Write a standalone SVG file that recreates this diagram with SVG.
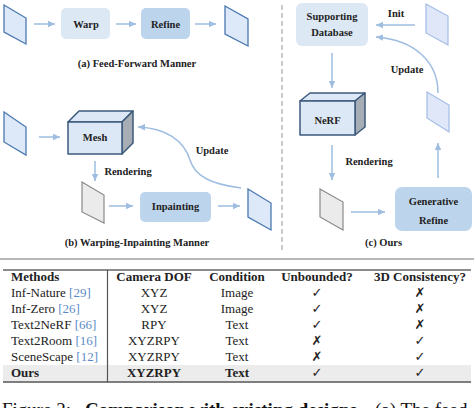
<svg xmlns="http://www.w3.org/2000/svg" width="474" height="408" viewBox="0 0 474 408">
<defs>
<marker id="ah" markerUnits="userSpaceOnUse" markerWidth="8" markerHeight="8" refX="7" refY="4" orient="auto">
<path d="M0,0.8 L7,4 L0,7.2 Z" fill="#9ebde0"/>
</marker>
</defs>
<style>
.lbl{font-family:"Liberation Serif",serif;font-weight:bold;font-size:10.5px;fill:#222;text-anchor:middle}
.arr{stroke:#9ebde0;stroke-width:1.5;fill:none;marker-end:url(#ah)}
.pd{fill:#dde9f8;stroke:#4a78b0;stroke-width:1.3}
.pl{fill:#dfe7f9;stroke:#a4bde6;stroke-width:1.2}
.pg{fill:#ebebeb;stroke:#8a8a8a;stroke-width:1.2}
.b1{fill:#dde8f5}
.b2{fill:#bdd5ec}
.cf{fill:#dce8f5;stroke:#3c5a7c;stroke-width:1.5;stroke-linejoin:round}
.cs{fill:#a6adb5;stroke:#3c5a7c;stroke-width:1.5;stroke-linejoin:round}
.tb{font-family:"Liberation Serif",serif;font-size:13px;fill:#222}
.th{font-weight:bold}
.c{text-anchor:middle}
.ref{fill:#5b8bc8}
.sym{font-family:"DejaVu Sans",sans-serif;font-size:13px;fill:#222;text-anchor:middle}
.cap{font-family:"Liberation Serif",serif;font-size:19px;fill:#111}
</style>

<!-- (a) Feed-Forward -->
<g id="a-in"><polygon class="pd" points="4,5 26,18 26,44 4,32"/></g>
<g id="a-warp"><rect class="b1" x="61" y="8" width="49" height="31" rx="5"/><text class="lbl" x="86" y="28">Warp</text></g>
<g id="a-refine"><rect class="b2" x="141" y="8" width="49" height="31" rx="5"/><text class="lbl" x="165.5" y="28">Refine</text></g>
<g id="a-out"><polygon class="pd" points="225,6 248,19 248,46 225,34"/></g>
<text class="lbl" x="137" y="67">(a) Feed-Forward Manner</text>

<!-- (b) Warping-Inpainting -->
<g id="b-in"><polygon class="pd" points="4,112 26,127 26,155 4,142"/></g>
<g id="b-mesh">
<polygon class="cf" points="68,122 79,111 133,111 122,122"/>
<polygon class="cs" points="122,122 133,111 133,143 122,154"/>
<rect class="cf" x="68" y="122" width="54" height="32"/>
<text class="lbl" x="95" y="141">Mesh</text>
</g>
<g id="b-render"><polygon class="pg" points="82,182 104,195 104,223 82,212"/></g>
<g id="b-inpaint"><rect class="b2" x="140" y="192" width="71" height="30" rx="5"/><text class="lbl" x="175.5" y="210">Inpainting</text></g>
<g id="b-out"><polygon class="pd" points="248,189 271,203 271,230 248,217"/></g>
<text class="lbl" x="137" y="246">(b) Warping-Inpainting Manner</text>

<!-- (c) Ours -->
<g id="c-db"><rect class="b1" x="296" y="3" width="72" height="43" rx="6"/><text class="lbl" x="332" y="20">Supporting</text><text class="lbl" x="332" y="36">Database</text></g>
<g id="c-init"><polygon class="pl" points="426,4 448,16 448,45 426,33"/></g>
<g id="c-nerf">
<polygon class="cf" points="300,101 310,93 365,93 355,101"/>
<polygon class="cs" points="355,101 365,93 365,127 355,135"/>
<rect class="cf" x="300" y="101" width="55" height="34"/>
<text class="lbl" x="327.5" y="124">NeRF</text>
</g>
<g id="c-render"><polygon class="pg" points="320,189 343,202 343,230 320,217"/></g>
<g id="c-gen"><rect class="b2" x="395" y="187" width="77" height="44" rx="7"/><text class="lbl" x="433.5" y="205">Generative</text><text class="lbl" x="433.5" y="224">Refine</text></g>
<g id="c-upd"><polygon class="pl" points="427,92 449,105 449,132 427,118"/></g>
<text class="lbl" x="383.5" y="246">(c) Ours</text>

<!-- connectors -->
<g id="connectors">
<line class="arr" x1="34" y1="24" x2="55" y2="24"/>
<line class="arr" x1="116" y1="24" x2="136" y2="24"/>
<line class="arr" x1="195" y1="24" x2="216" y2="24"/>
<line class="arr" x1="39" y1="137" x2="60" y2="137"/>
<line class="arr" x1="95" y1="161" x2="95" y2="181"/>
<line class="arr" x1="109" y1="206" x2="133" y2="206"/>
<line class="arr" x1="218" y1="206" x2="240" y2="206"/>
<path class="arr" d="M241,188 C210,184 195,176 190,160 C184,140 165,128 138,127"/>
<line class="arr" x1="415" y1="25" x2="376" y2="25"/>
<path class="arr" d="M438,93 C438,62 415,40 376,37"/>
<line class="arr" x1="332" y1="53" x2="332" y2="88"/>
<line class="arr" x1="332" y1="145" x2="332" y2="180"/>
<line class="arr" x1="351" y1="212" x2="385" y2="212"/>
<line class="arr" x1="438" y1="178" x2="438" y2="143"/>
<text class="lbl" x="128" y="175">Rendering</text>
<text class="lbl" x="212" y="154">Update</text>
<text class="lbl" x="396" y="17">Init</text>
<text class="lbl" x="407" y="73">Update</text>
<text class="lbl" x="369" y="165">Rendering</text>
</g>

<!-- separators -->
<line x1="282" y1="5" x2="282" y2="250" stroke="#a8a8a8" stroke-width="1.2" stroke-dasharray="5,3"/>
<line x1="0" y1="259" x2="474" y2="259" stroke="#b8b8b8" stroke-width="2"/>

<!-- table -->
<g id="table">
<rect x="3" y="365" width="468" height="16.5" fill="#ececec"/>
<line x1="3" y1="270" x2="471" y2="270" stroke="#666" stroke-width="1.5"/>
<line x1="3" y1="382" x2="471" y2="382" stroke="#555" stroke-width="1.6"/>
<line x1="107.5" y1="270" x2="107.5" y2="382" stroke="#555" stroke-width="1.2"/>
<g class="tb th">
<text x="11" y="281">Methods</text>
<text class="c" x="154" y="281">Camera DOF</text>
<text class="c" x="237" y="281">Condition</text>
<text class="c" x="317" y="281">Unbounded?</text>
<text class="c" x="420" y="281">3D Consistency?</text>
</g>
<g class="tb">
<text x="11" y="297">Inf-Nature <tspan class="ref">[29]</tspan></text>
<text x="11" y="313">Inf-Zero <tspan class="ref">[26]</tspan></text>
<text x="11" y="329">Text2NeRF <tspan class="ref">[66]</tspan></text>
<text x="11" y="345">Text2Room <tspan class="ref">[16]</tspan></text>
<text x="11" y="361">SceneScape <tspan class="ref">[12]</tspan></text>
<text class="c" x="154" y="297">XYZ</text>
<text class="c" x="154" y="313">XYZ</text>
<text class="c" x="154" y="329">RPY</text>
<text class="c" x="154" y="345">XYZRPY</text>
<text class="c" x="154" y="361">XYZRPY</text>
<text class="c" x="237" y="297">Image</text>
<text class="c" x="237" y="313">Image</text>
<text class="c" x="237" y="329">Text</text>
<text class="c" x="237" y="345">Text</text>
<text class="c" x="237" y="361">Text</text>
</g>
<g class="tb th">
<text x="11" y="377">Ours</text>
<text class="c" x="154" y="377">XYZRPY</text>
<text class="c" x="237" y="377">Text</text>
</g>
<g class="sym">
<text x="317" y="297">✓</text><text x="420" y="297">✗</text>
<text x="317" y="313">✓</text><text x="420" y="313">✗</text>
<text x="317" y="329">✓</text><text x="420" y="329">✗</text>
<text x="317" y="345">✗</text><text x="420" y="345">✓</text>
<text x="317" y="361">✗</text><text x="420" y="361">✓</text>
<text x="317" y="377">✓</text><text x="420" y="377">✓</text>
</g>
</g>

<!-- caption (cut off at the bottom edge, as in the reference) -->
<text class="cap" x="2" y="416">Figure 2:</text>
<text class="cap" x="85" y="416" font-weight="bold">Comparison with existing designs.</text>
<text class="cap" x="375" y="416">(a) The feed</text>
</svg>
